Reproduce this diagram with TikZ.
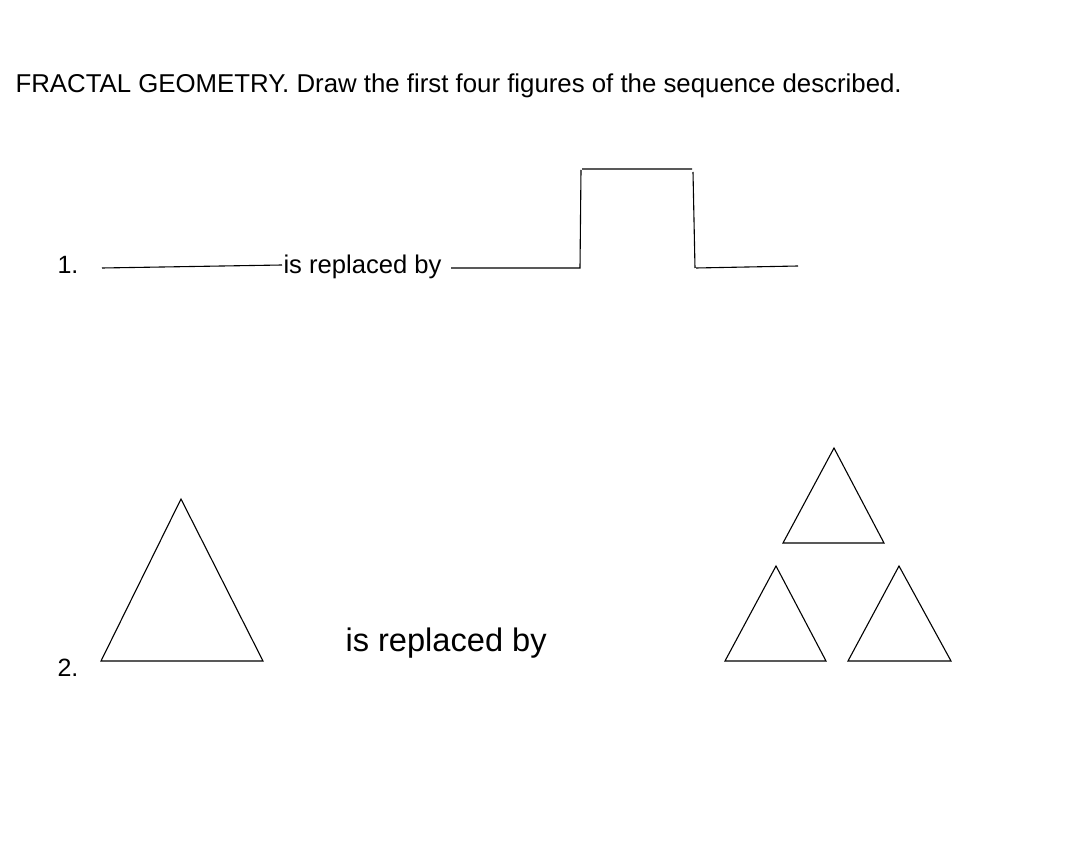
\documentclass[tikz,border=0pt]{standalone}
\usepackage{fontspec}
\setmainfont{Liberation Sans}
\begin{document}
\begin{tikzpicture}[x=1pt,y=-1pt,line width=1.1pt,
  lbl/.style={inner sep=0pt,anchor=base west}]
\useasboundingbox (0,0) rectangle (1080,842);
\node[lbl,font=\fontsize{25.8}{28}\selectfont] (title) at (15,93) {FRACTAL GEOMETRY. Draw the first four figures of the sequence described.};
\node[lbl,font=\fontsize{25}{28}\selectfont] (n1) at (57,274) {1.};
\coordinate (a1) at (102,268); \coordinate (a2) at (282,265);
\draw (a1) -- (a2);
\node[lbl,font=\fontsize{25.6}{28}\selectfont] (r1) at (283,274) {is replaced by};
\draw (451,268) -- (580,268) -- (581,170) (582,169) -- (692,169) (693,172) -- (695,268) (696,268) -- (798,266);
\node[lbl,font=\fontsize{25}{28}\selectfont] (n2) at (57,676) {2.};
\draw (101,661) -- (181,499) -- (263,661) -- cycle;
\node[lbl,font=\fontsize{32.6}{36}\selectfont] (r2) at (345,651) {is replaced by};
\draw (783,543) -- (834,448) -- (884,543) -- cycle;
\draw (725,661) -- (776,566) -- (826,661) -- cycle;
\draw (848,661) -- (899,566) -- (951,661) -- cycle;
\end{tikzpicture}
\end{document}
